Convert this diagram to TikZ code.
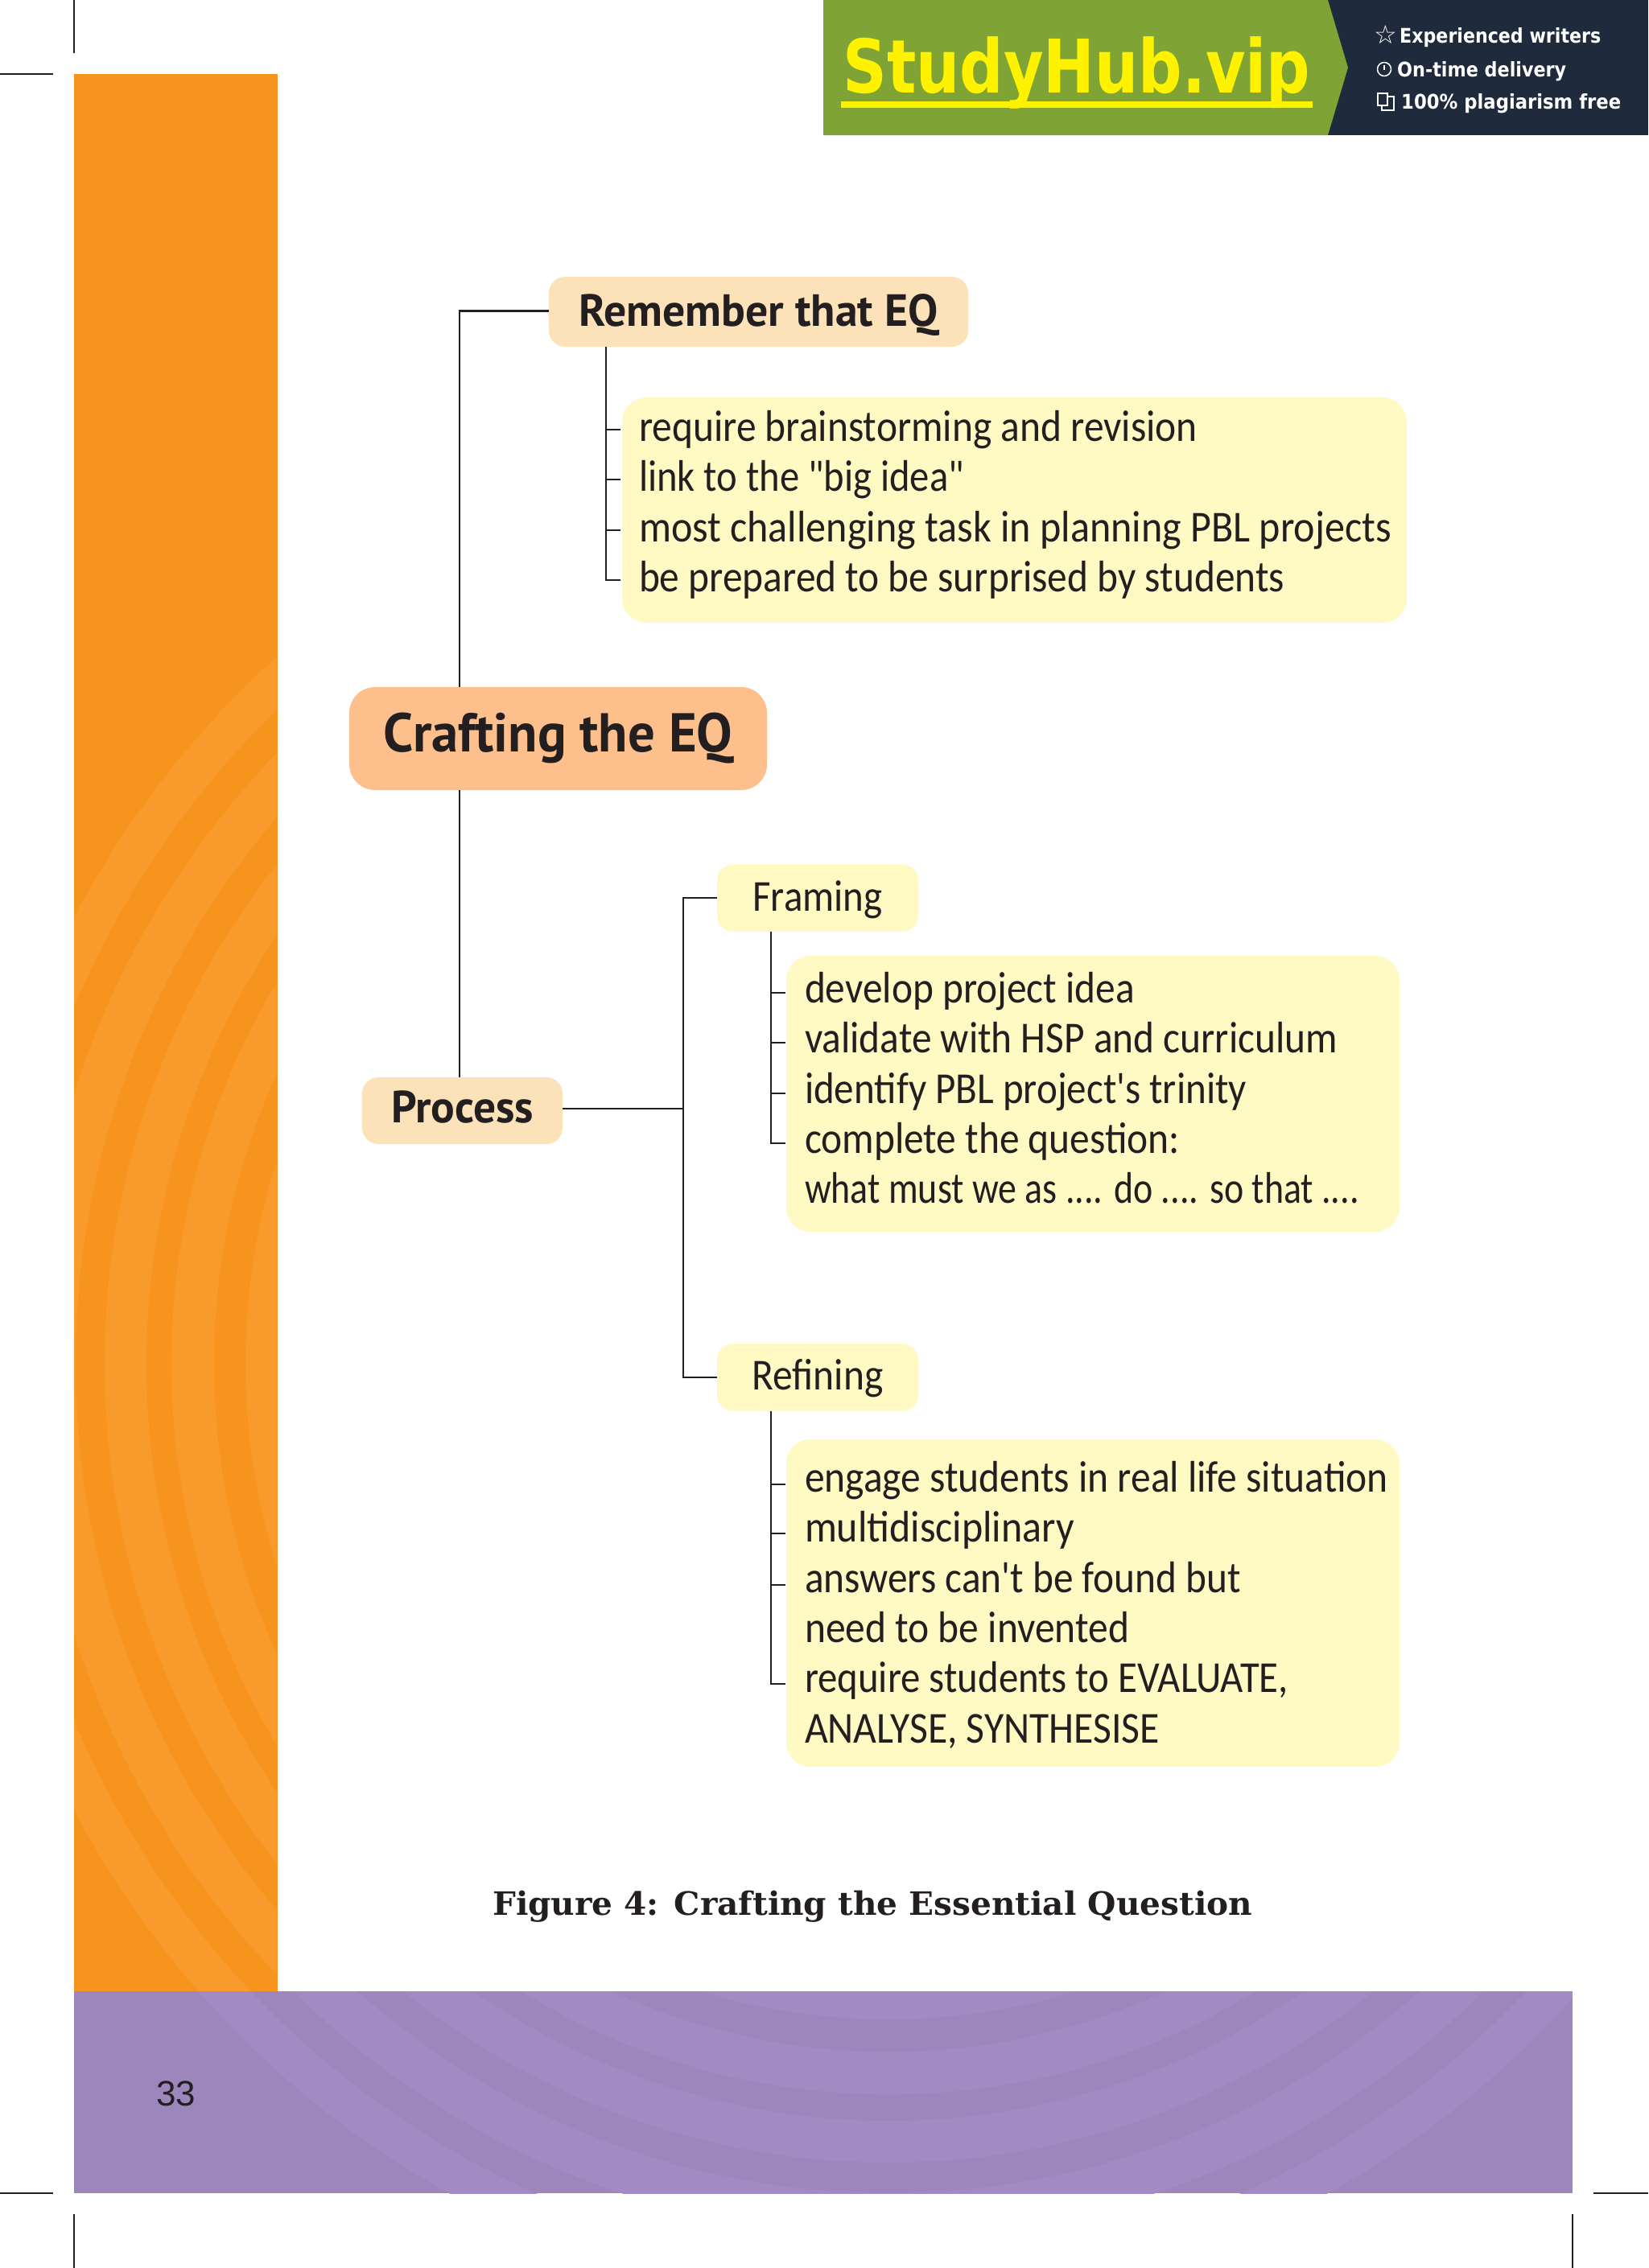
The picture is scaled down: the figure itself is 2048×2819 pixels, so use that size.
\documentclass[tikz,border=0pt]{standalone}
\usepackage{fontspec}
\usepackage{graphicx}
\setmainfont{PT Sans}
\newfontfamily\bodyfont{Carlito}
\newfontfamily\logofont{DejaVu Sans}
\newfontfamily\capfont{DejaVu Serif}
\newfontfamily\numfont{Liberation Sans}
\definecolor{ink}{HTML}{231F20}
\definecolor{orangeD}{HTML}{F7941E}
\definecolor{orangeL}{HTML}{F99A2C}
\definecolor{purpleD}{HTML}{9C86BC}
\definecolor{purpleL}{HTML}{A28BC2}
\definecolor{peach}{HTML}{FBE2B8}
\definecolor{salmon}{HTML}{FDC08C}
\definecolor{pale}{HTML}{FFF9C4}
\definecolor{bannerG}{HTML}{7FA334}
\definecolor{bannerD}{HTML}{1F2A3C}
\definecolor{bannerY}{HTML}{FFF200}
\newcommand\fitx[2]{\setbox0=\hbox{#2}\pgfmathsetmacro\fitr{#1pt/\wd0}\scalebox{\fitr}[1]{\box0}}
\newcommand\blk[4]{\makebox[#1pt][l]{\hspace*{#2pt}\raisebox{#3pt}[0pt][0pt]{\begin{tabular}[t]{@{}l@{}}#4\end{tabular}}}}
\newcommand\one[2]{\raisebox{#1pt}[0pt][0pt]{#2}}
\tikzset{
  bodyf/.style={font=\bodyfont\fontsize{55}{62.3}\selectfont},
  boxbase/.style={inner sep=0pt,text=ink},
  yellowblock/.style={boxbase,fill=pale,rounded corners=30pt,bodyf},
  yellowtab/.style={boxbase,fill=pale,rounded corners=20pt,bodyf},
  peachbox/.style={boxbase,fill=peach,rounded corners=20pt,font=\fontsize{56}{60}\selectfont\bfseries},
  rootbox/.style={boxbase,fill=salmon,rounded corners=32pt,font=\fontsize{68}{72}\selectfont\bfseries},
  conn/.style={draw=ink,line width=2.2pt},
  crop/.style={draw=ink,line width=1.2pt},
  free/.style={inner sep=0pt,anchor=base west},
  smallban/.style={free,text=white,font=\logofont\fontsize{25}{28}\selectfont\bfseries}
}
\newcommand\ringset[1]{%
  \foreach \ra/\rb in {1101/1149,1010/1064,922/974,838/891}{
    \draw[#1,line width={(\rb-\ra)*1pt}] (1104,1695) ellipse[x radius={(\ra+\rb)/2},y radius={1.02*(\ra+\rb)/2}];
  }
  \fill[#1] (1104,1695) ellipse[x radius=799,y radius=815];
}
\begin{document}
\begin{tikzpicture}[x=1pt,y=-1pt]
\useasboundingbox (0,0) rectangle (2048,2819);
% page furniture
\fill[orangeD] (92,92) rectangle (345,2475);
\begin{scope}
  \clip (92,92) rectangle (345,2475);
  \ringset{orangeL}
\end{scope}
\fill[purpleD] (92,2475) rectangle (1954,2726);
\begin{scope}
  \clip (92,2475) rectangle (1954,2726);
  \ringset{purpleL}
\end{scope}
\node[free,text=ink,font=\numfont\fontsize{44}{48}\selectfont] (pagenum) at (194,2617) {33};
% crop marks
\draw[crop] (92,0) -- (92,66);
\draw[crop] (0,92) -- (66,92);
\draw[crop] (0,2726) -- (66,2726);
\draw[crop] (1980,2726) -- (2048,2726);
\draw[crop] (92,2752) -- (92,2819);
\draw[crop] (1954,2752) -- (1954,2819);
% banner
\fill[bannerD] (1640,0) rectangle (2048,168);
\fill[bannerG] (1023,0) -- (1650,0) -- (1675,84) -- (1650,168) -- (1023,168) -- cycle;
\node[free,text=bannerY,font=\logofont\fontsize{92}{96}\selectfont\bfseries] (logo) at (1047,115) {\fitx{581}{StudyHub.vip}};
\fill[bannerY] (1045,126) rectangle (1631,134);
\node[smallban] (b1) at (1739,53) {\fitx{250}{Experienced writers}};
\node[smallban] (b2) at (1736,95) {\fitx{210}{On-time delivery}};
\node[smallban] (b3) at (1741,135.5) {\fitx{273}{100\% plagiarism free}};
\node[text=white,inner sep=0pt,font=\logofont\fontsize{32}{34}\selectfont] (b1i) at (1722,43) {☆};
\draw[white,line width=1.5pt] (1720,86) circle[radius=8.5];
\draw[white,line width=1.5pt] (1720,81) -- (1720,87);
\draw[white,line width=1.5pt,fill=bannerD] (1717,120) rectangle (1732,137);
\draw[white,line width=1.5pt,fill=bannerD] (1712,116) rectangle (1724,131);
% diagram nodes
\node[rootbox,minimum width=519pt,minimum height=128pt] (craft) at (693.5,918) {\one{-16}{\fitx{434}{Crafting the EQ}}};
\node[peachbox,minimum width=521pt,minimum height=87pt] (rem) at (942.5,387.5) {\one{-17.5}{\fitx{446}{Remember that EQ}}};
\node[yellowblock,minimum width=975pt,minimum height=280pt] (remlist) at (1260.5,634) {\blk{975}{21}{85.5}{\fitx{694}{require brainstorming and revision}\\\fitx{404}{link to the "big idea"}\\\fitx{935}{most challenging task in planning PBL projects}\\\fitx{802}{be prepared to be surprised by students}}};
\node[peachbox,minimum width=249pt,minimum height=83pt] (proc) at (574.5,1380.5) {\one{-14.5}{\fitx{177}{Process}}};
\node[yellowtab,minimum width=250pt,minimum height=84pt] (fra) at (1016,1116) {\one{-16.5}{\fitx{161}{Framing}}};
\node[yellowblock,minimum width=762pt,minimum height=343pt] (fralist) at (1358,1359.5) {\blk{762}{23}{113}{\fitx{410}{develop project idea}\\\fitx{662}{validate with HSP and curriculum}\\\fitx{549}{identify PBL project's trinity}\\\fitx{466}{complete the question:}\\\fitx{689}{what must we as .... do .... so that ....}}};
\node[yellowtab,minimum width=250pt,minimum height=84pt] (refi) at (1016,1712) {\one{-15.5}{\fitx{163}{Refining}}};
\node[yellowblock,minimum width=762pt,minimum height=407pt] (reflist) at (1358,1992.5) {\blk{762}{23}{138}{\fitx{725}{engage students in real life situation}\\\fitx{335}{multidisciplinary}\\\fitx{542}{answers can't be found but}\\\fitx{403}{need to be invented}\\\fitx{601}{require students to EVALUATE,}\\\fitx{441}{ANALYSE, SYNTHESISE}}};
\node[free,text=ink,font=\capfont\fontsize{40}{44}\selectfont\bfseries] (cap) at (612,2380) {\fitx{944}{Figure 4: Crafting the Essential Question}};
% connector guide coordinates
\coordinate (trunk) at (571,0);
\coordinate (bus) at (849,0);
\coordinate (s1) at (753,0);
\coordinate (s2) at (958,0);
\coordinate (a1) at (771,534); \coordinate (a2) at (771,596); \coordinate (a3) at (771,659); \coordinate (a4) at (771,721);
\coordinate (c1) at (976,1234); \coordinate (c2) at (976,1296); \coordinate (c3) at (976,1359); \coordinate (c4) at (976,1421);
\coordinate (d1) at (976,1845); \coordinate (d2) at (976,1906); \coordinate (d3) at (976,1970); \coordinate (d4) at (976,2093);
% connectors
\draw[conn] ([yshift=1pt]rem.west) -| (craft.north -| trunk);
\draw[conn] (craft.south -| trunk) -- (proc.north -| trunk);
\draw[conn] ([yshift=2.5pt]proc.east) -- ([yshift=2.5pt]proc.east -| bus);
\draw[conn] (fra.west) -| (refi.west -| bus) -- (refi.west);
\draw[conn] (rem.south -| s1) -- (a4 -| s1) -- (a4);
\draw[conn] (a1 -| s1) -- (a1);
\draw[conn] (a2 -| s1) -- (a2);
\draw[conn] (a3 -| s1) -- (a3);
\draw[conn] (fra.south -| s2) -- (c4 -| s2) -- (c4);
\draw[conn] (c1 -| s2) -- (c1);
\draw[conn] (c2 -| s2) -- (c2);
\draw[conn] (c3 -| s2) -- (c3);
\draw[conn] (refi.south -| s2) -- (d4 -| s2) -- (d4);
\draw[conn] (d1 -| s2) -- (d1);
\draw[conn] (d2 -| s2) -- (d2);
\draw[conn] (d3 -| s2) -- (d3);
\end{tikzpicture}
\end{document}
